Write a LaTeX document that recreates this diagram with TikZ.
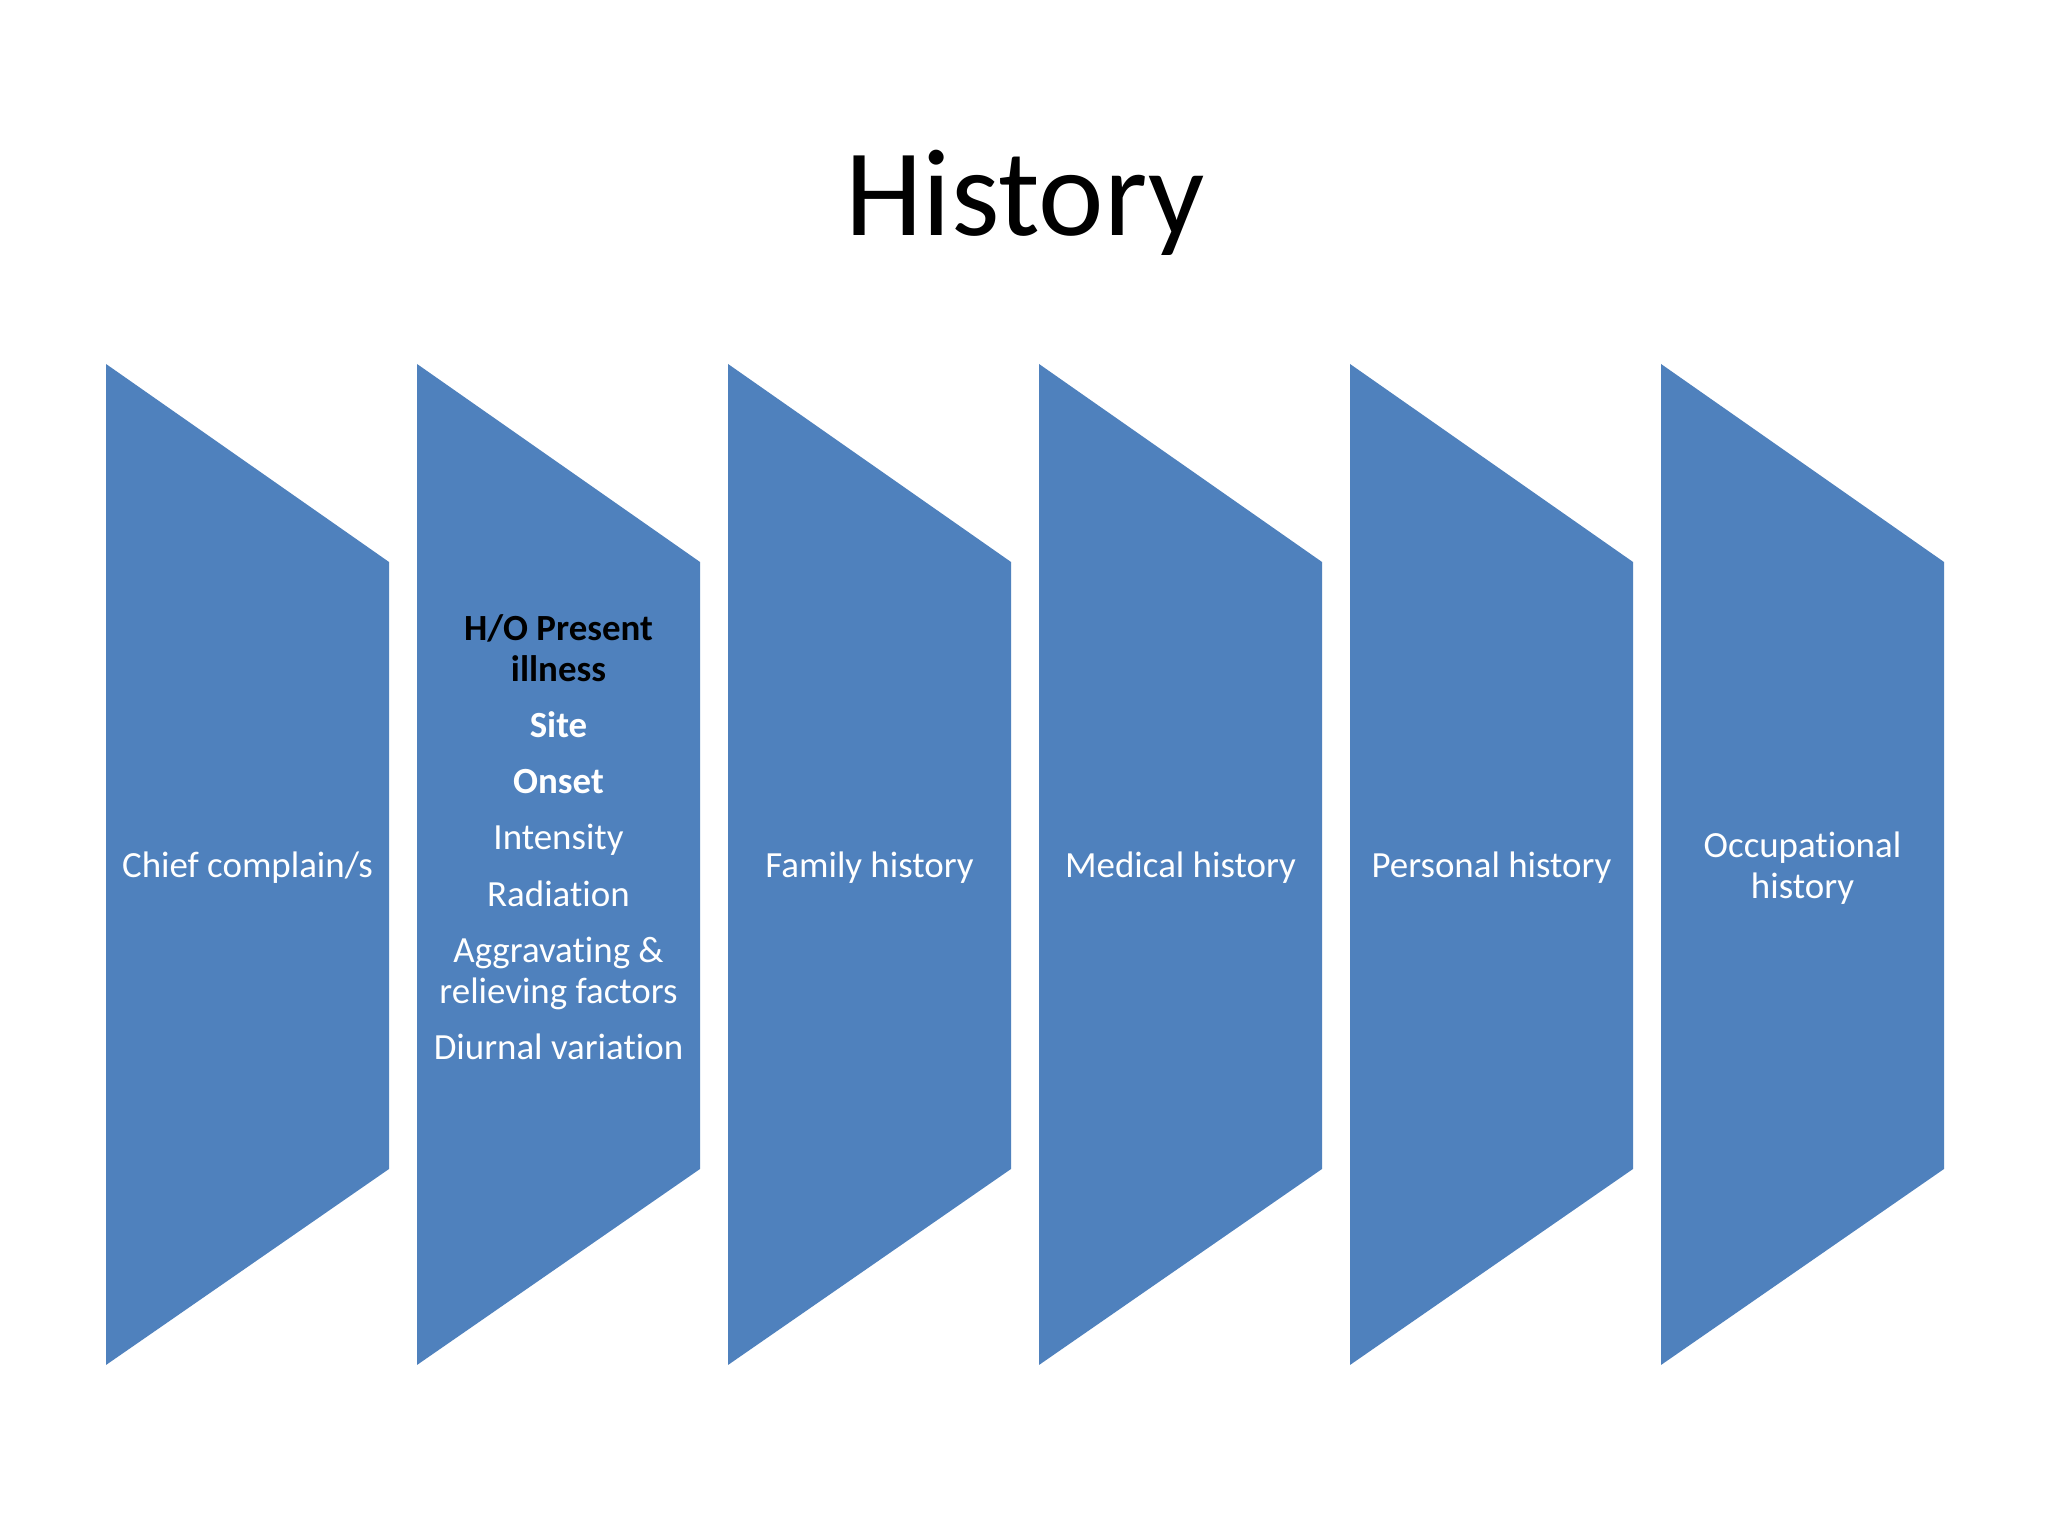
\documentclass[tikz,border=0pt]{standalone}
\usepackage{fontspec}
\setmainfont{Carlito}[RawFeature=-liga]
\usepackage{xcolor}
\usepackage{tikz}
\usetikzlibrary{positioning}
\definecolor{stageblue}{RGB}{79, 129, 189}

\tikzset{
    stage/.style={fill=stageblue},
    stagetext/.style={text=white, font=\fontsize{10.5}{11.6}\selectfont, align=center, inner sep=0pt}
}

\begin{document}
\begin{tikzpicture}
    \useasboundingbox (0,0) rectangle (20.48,15.36);
    \fill[white] (0,0) rectangle (20.48,15.36);

    % Title
    \node[font=\fontsize{35.3}{42}\selectfont] (title) at (10.25, 13.33) {History};

    % Chevron stages
    \fill[stage] (1.06,11.72) -- (3.89,9.74) -- (3.89,3.67) -- (1.06,1.71) -- cycle;
    \fill[stage] (4.17,11.72) -- (7.00,9.74) -- (7.00,3.67) -- (4.17,1.71) -- cycle;
    \fill[stage] (7.28,11.72) -- (10.11,9.74) -- (10.11,3.67) -- (7.28,1.71) -- cycle;
    \fill[stage] (10.39,11.72) -- (13.22,9.74) -- (13.22,3.67) -- (10.39,1.71) -- cycle;
    \fill[stage] (13.50,11.72) -- (16.33,9.74) -- (16.33,3.67) -- (13.50,1.71) -- cycle;
    \fill[stage] (16.61,11.72) -- (19.44,9.74) -- (19.44,3.67) -- (16.61,1.71) -- cycle;

    % Labels
    \node[stagetext] (chief) at (2.475, 6.68) {Chief complain/s};
    \node[stagetext] (present) at (5.585, 6.99) {%
        \textbf{\color{black}H/O Present}\\\textbf{\color{black}illness}\\[4.4pt]
        \textbf{Site}\\[4.4pt]
        \textbf{Onset}\\[4.4pt]
        Intensity\\[4.4pt]
        Radiation\\[4.4pt]
        Aggravating \&\\relieving factors\\[4.4pt]
        Diurnal variation};
    \node[stagetext] (family) at (8.695, 6.68) {Family history};
    \node[stagetext] (medical) at (11.805, 6.68) {Medical history};
    \node[stagetext] (personal) at (14.915, 6.68) {Personal history};
    \node[stagetext] (occupational) at (18.025, 6.68) {Occupational\\history};
\end{tikzpicture}
\end{document}
